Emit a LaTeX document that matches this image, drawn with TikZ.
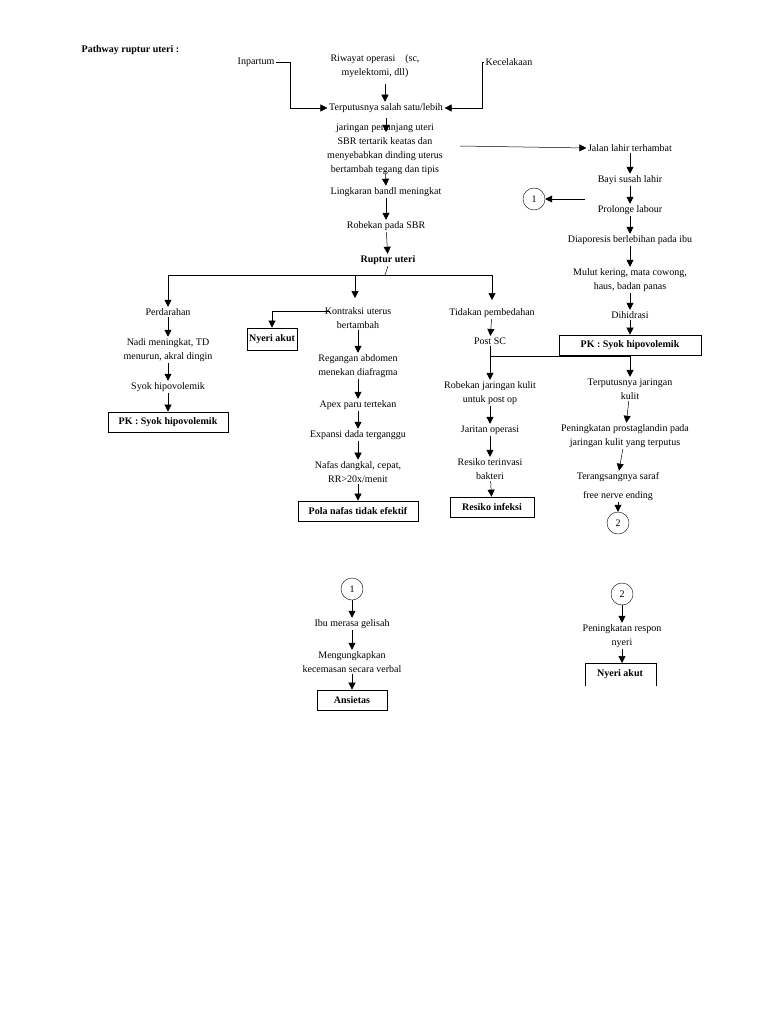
\documentclass[tikz,border=0pt]{standalone}
\usepackage{fontspec}
\setmainfont{Liberation Serif}
\usetikzlibrary{arrows.meta}
\begin{document}
\begin{tikzpicture}[x=1pt,y=-1pt,
  every node/.style={font=\fontsize{10}{14}\selectfont,inner sep=1.5pt,align=center},
  ar/.style={-{Triangle[length=7pt,width=7pt]},line width=0.5pt},
  ln/.style={line width=0.5pt},
  bx/.style={draw,line width=0.7pt,font=\fontsize{10}{14}\selectfont\bfseries,minimum height=20pt,inner xsep=8pt},
  cir/.style={draw,circle,minimum size=22pt,inner sep=0pt}]
\useasboundingbox (0,0) rectangle (768,1024);
\node[anchor=west,font=\fontsize{10}{14}\selectfont\bfseries] (title) at (80,50) {Pathway ruptur uteri :};
\node (inp) at (256,62) {Inpartum};
\node (riw) at (375,66) {Riwayat operasi\quad(sc,\\myelektomi, dll)};
\node (kec) at (509,62) {Kecelakaan};
\node (ter) at (386,108) {Terputusnya salah satu/lebih};
\draw[ar] (inp.east) ++(0,0) coordinate (i1) -| (290,108) coordinate(i2) -- (ter.west);
\draw[ar] (kec.west) -| (482,108) -- (ter.east);
\draw[ar] (riw) ++(10,18) coordinate (r1) -- (r1|-ter.north);
\node (jar) at (385,149) {jaringan penunjang uteri\\SBR tertarik keatas dan\\menyebabkan dinding uterus\\bertambah tegang dan tipis};
\draw[ar] (ter) ++(0,10) -- ++(0,14);
\node (lin) at (386,192) {Lingkaran bandl meningkat};
\draw[ar] (jar.south) ++(0,-6) -- (lin.north);
\node (rob) at (386,226) {Robekan pada SBR};
\draw[ar] (lin) -- (rob);
\node[font=\fontsize{10}{14}\selectfont\bfseries] (rup) at (388,260) {Ruptur uteri};
\draw[ar] (rob) -- (rup);
% right column
\node (jal) at (630,148) {Jalan lahir terhambat};
\draw[ar] (460,146) -- (jal.west);
\node (bay) at (630,180) {Bayi susah lahir};
\node (pro) at (630,210) {Prolonge labour};
\node[cir] (c1a) at (534,199) {1};
\draw[ar] (585,199) -- (c1a);
\node (dia) at (630,240) {Diaporesis berlebihan pada ibu};
\node (mul) at (630,280) {Mulut kering, mata cowong,\\haus, badan panas};
\node (dih) at (630,315) {Dihidrasi};
\node[bx,minimum width=142pt] (pk2) at (630,345) {PK : Syok hipovolemik};
\draw[ar] (jal) -- (bay); \draw[ar] (bay) -- (pro); \draw[ar] (pro) -- (dia);
\draw[ar] (dia) -- (mul); \draw[ar] (mul) -- (dih); \draw[ar] (dih) -- (pk2);
% branches
\coordinate (br) at (385,275);
\draw[ln] (rup.south) -- (br);
\draw[ln] (168,275) -- (492,275);
\node (per) at (168,312) {Perdarahan};
\node (kon) at (358,318) {Kontraksi uterus\\bertambah};
\node (tid) at (492,313) {Tidakan pembedahan};
\draw[ar] (168,275) -- (per);
\draw[ar] (355,275) -- (355,298);
\draw[ar] (492,275) -- (492,300);
% col1
\node (nad) at (168,350) {Nadi meningkat, TD\\menurun, akral dingin};
\node (syo) at (168,387) {Syok hipovolemik};
\node[bx,minimum width=120pt] (pk1) at (168,422) {PK : Syok hipovolemik};
\draw[ar] (per) -- (nad); \draw[ar] (nad) -- (syo); \draw[ar] (syo) -- (pk1);
% col2
\node[bx,minimum width=49pt,minimum height=22pt,inner xsep=2pt] (nye1) at (272,339) {Nyeri akut};
\draw[ar] (330,311) -| (nye1.north);
\node (reg) at (358,366) {Regangan abdomen\\menekan diafragma};
\node (ape) at (358,405) {Apex paru tertekan};
\node (exp) at (358,435) {Expansi dada terganggu};
\node (naf) at (358,472) {Nafas dangkal, cepat,\\RR>20x/menit};
\node[bx,minimum width=120pt] (pol) at (358,511) {Pola nafas tidak efektif};
\draw[ar] (kon) -- (reg); \draw[ar] (reg) -- (ape); \draw[ar] (ape) -- (exp);
\draw[ar] (exp) -- (naf); \draw[ar] (naf) -- (pol);
% col3
\node (pos) at (490,341) {Post SC};
\draw[ar] (tid) -- (pos);
\node (rkj) at (490,393) {Robekan jaringan kulit\\untuk post op};
\node (jat) at (490,430) {Jaritan operasi};
\node (res) at (490,469) {Resiko terinvasi\\bakteri};
\node[bx,minimum width=84pt] (rin) at (492,507) {Resiko infeksi};
\draw[ln] (pos.south) -- (490,356) -- (630,356);
\draw[ar] (490,356) -- (rkj);
\draw[ar] (jat) -- (res); \draw[ar] (rkj) -- (jat); \draw[ar] (res) -- (rin);
% col4
\node (tjk) at (630,389) {Terputusnya jaringan\\kulit};
\draw[ar] (630,356) -- (tjk);
\node (pen) at (625,436) {Peningkatan prostaglandin pada\\jaringan kulit yang terputus};
\node (trs) at (618,477) {Terangsangnya saraf};
\node (fne) at (618,496) {free nerve ending};
\node[cir] (c2a) at (618,523) {2};
\draw[ar] (tjk) -- (pen); \draw[ar] (pen) -- (trs); \draw[ar] (fne) -- (c2a);
% bottom left
\node[cir] (c1b) at (352,589) {1};
\node (ibu) at (352,624) {Ibu merasa gelisah};
\node (men) at (352,662) {Mengungkapkan\\kecemasan secara verbal};
\node[bx,minimum width=70pt] (ans) at (352,700) {Ansietas};
\draw[ar] (c1b) -- (ibu); \draw[ar] (ibu) -- (men); \draw[ar] (men) -- (ans);
% bottom right
\node[cir] (c2b) at (622,594) {2};
\node (pre) at (622,636) {Peningkatan respon\\nyeri};
\node[font=\fontsize{10}{14}\selectfont\bfseries,minimum height=20pt] (nye2) at (620,674) {Nyeri akut};
\draw[ln] (585,686) -- (585,663) -- (656,663) -- (656,686);
\draw[ar] (c2b) -- (pre); \draw[ar] (pre) -- (622,663);
\end{tikzpicture}
\end{document}
